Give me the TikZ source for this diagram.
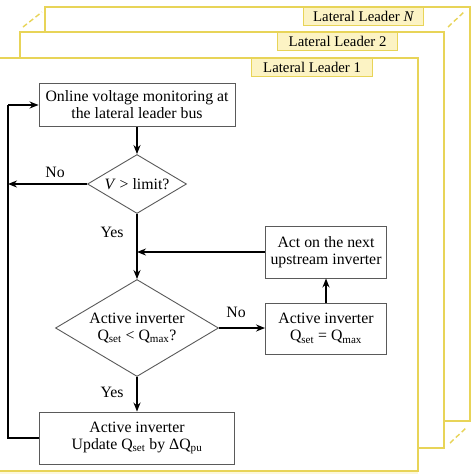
\documentclass[tikz,border=0pt]{standalone}
\usepackage{fontspec}
\setmainfont{Liberation Serif}
\usetikzlibrary{shapes.geometric,arrows.meta}
\definecolor{frameyel}{RGB}{232,212,88}
\definecolor{labelyel}{RGB}{252,243,196}
\definecolor{boxgray}{RGB}{90,90,90}
\tikzset{
  frame/.style={draw=frameyel,line width=1.4pt,fill=white},
  leaderlabel/.style={draw=frameyel,line width=1.2pt,fill=labelyel,anchor=north west,
    inner sep=0pt,minimum height=18pt,font=\fontsize{14.8}{16}\selectfont},
  stackdash/.style={draw=frameyel,line width=1.4pt,dashed,dash pattern=on 5pt off 3pt},
  procbox/.style={draw=boxgray,line width=0.9pt,fill=white,align=center,inner sep=0pt,
    font=\fontsize{15.8}{17}\selectfont},
  decision/.style={draw=boxgray,line width=0.9pt,diamond,inner sep=0pt,align=center,
    font=\fontsize{15.8}{17}\selectfont},
  connarrow/.style={draw=black,line width=1.7pt,-{Stealth[length=9pt,width=7pt]}},
  connline/.style={draw=black,line width=1.7pt},
  flowlabel/.style={font=\fontsize{15.8}{17}\selectfont,inner sep=0pt}
}
\begin{document}
\begin{tikzpicture}[x=1pt,y=-1pt]
\useasboundingbox (0,0) rectangle (474,474);
\fill[white] (0,0) rectangle (474,474);
% stacked frames
\path[frame] (45,7) rectangle (470,421);
\path[frame] (20,32) rectangle (444,448);
\fill[labelyel!60] (-2,471) rectangle (418,476);
\path[frame] (-3,58) rectangle (418,471);
\node[leaderlabel,minimum width=120pt] (lN) at (303,7) {Lateral Leader \textit{N}};
\node[leaderlabel,minimum width=120pt] (l2) at (277,32) {Lateral Leader 2};
\node[leaderlabel,minimum width=121pt] (l1) at (251,58) {Lateral Leader 1};
\draw[stackdash] (23,27) -- (42,12);
\draw[stackdash] (448,27) -- (464,12);
\draw[stackdash] (450,443) -- (466,428);
% flowchart
\node[procbox,minimum width=196pt,minimum height=43pt] (mon) at (137,105)
  {Online voltage monitoring at\\the lateral leader bus};
\node[decision,minimum width=99pt,minimum height=59pt,aspect=1.68] (d1) at (137,184)
  {\textit{V} > limit?};
\node[decision,minimum width=163pt,minimum height=97pt,aspect=1.68] (d2) at (137,328)
  {Active inverter\\Q\textsubscript{set} < Q\textsubscript{max}?};
\node[procbox,minimum width=121pt,minimum height=52pt] (act) at (326,252)
  {Act on the next\\upstream inverter};
\node[procbox,minimum width=121pt,minimum height=51pt] (qmax) at (326,328.5)
  {Active inverter\\Q\textsubscript{set} = Q\textsubscript{max}};
\node[procbox,minimum width=195pt,minimum height=52pt] (upd) at (137,438)
  {Active inverter\\Update Q\textsubscript{set} by ΔQ\textsubscript{pu}};
\coordinate (lpbot) at (8,438);
\coordinate (lptop) at (8,105);
\coordinate (lpno) at (8,184);
\coordinate (join) at (137,252);
\draw[connline] (upd.west) -- (lpbot) -- (lptop);
\draw[connarrow] (lptop) -- (mon.west);
\draw[connarrow] (mon.south) -- (d1.north);
\draw[connarrow] (d1.west) -- (lpno);
\draw[connarrow] (d1.south) -- (d2.north);
\draw[connarrow] (act.west) -- (join);
\draw[connarrow] (d2.east) -- (d2.east -| qmax.west);
\draw[connarrow] (qmax.north) -- (act.south);
\draw[connarrow] (d2.south) -- (upd.north);
\node[flowlabel] (no1) at (55,172) {No};
\node[flowlabel] (yes1) at (112,232) {Yes};
\node[flowlabel] (no2) at (236,312) {No};
\node[flowlabel] (yes2) at (112,392) {Yes};
\end{tikzpicture}
\end{document}
